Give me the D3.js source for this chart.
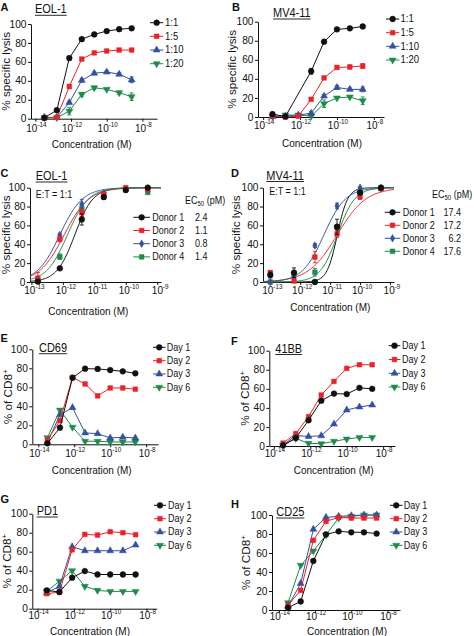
<!DOCTYPE html>
<html>
<head>
<meta charset="utf-8">
<script src="https://cdn.jsdelivr.net/npm/d3@7"></script>
<style>
  body { margin: 0; background: #fff; }
  text { font-family: "Liberation Sans", Arial, sans-serif; }
</style>
</head>
<body>
<svg id="fig" width="474" height="636"></svg>
<script>
// concentrations (M)
var concTitration = [3.2e-14, 1.6e-13, 8e-13, 4e-12, 2e-11, 1e-10, 5e-10, 2.5e-9];
var concEOLDonor = [1.6e-13, 8e-13, 4e-12, 2e-11, 1e-10, 5e-10];
var concMVDonor = [1e-13, 6.2e-13, 3.1e-12, 1.7e-11, 1e-10, 5e-10];

var yTicks = [0, 20, 40, 60, 80, 100];
var xTickExpWide = [-14, -12, -10, -8];
var xTickExpNarrow = [-13, -12, -11, -10, -9];

// A / B : effector:target ratios
var ratioNames = ['1:1', '1:5', '1:10', '1:20'];
var eolRatioLysis = [
  [1, 9, 64, 84, 89, 92.5, 94.5, 95.5],
  [0.5, 1.5, 34, 63, 69.5, 71.5, 72.5, 72.5],
  [1.4, 1.4, 17, 40.5, 48, 49.3, 47, 41],
  [1, 1, 8, 25.7, 32.7, 31, 27.5, 23.2]
];
var eolRatioErr = [
  [0.5, 1, 2, 1.5, 1, 1, 1, 1],
  [0.5, 0.5, 2, 1.5, 1, 1, 1, 1],
  [0.5, 0.5, 1.5, 2, 1.5, 1.5, 1.5, 3],
  [0.5, 0.5, 4, 2, 1.5, 1, 1.5, 4]
];
var mvRatioLysis = [
  [3, 0.5, null, 48, 79, 92, 93, 95],
  [1, 0, 1, 18.5, 41, 52, 52.5, 53.5],
  [0.5, 1, 2, 4, 22, 31, 29, 29],
  [0.5, 2, 2, 1, 14, 20, 21, 17]
];
var mvRatioErr = [
  [2, 0.5, 0, 3, 2, 1, 1, 1.5],
  [1, 0.5, 0.5, 1, 1, 1.5, 2, 2.5],
  [0.5, 0.5, 1, 2, 1.5, 2, 1.5, 2.5],
  [0.5, 0.5, 0.5, 1, 4, 1, 1, 4]
];

// C / D : donors, E:T = 1:1
var donorNames = ['Donor 1', 'Donor 2', 'Donor 3', 'Donor 4'];
var eolDonorLysis = [
  [0.5, 14.5, 66.4, 90, 97.5, 100],
  [4, 45.6, 73.5, 93, 100, 98],
  [3, 49.8, 82.7, 94, 98.5, 99],
  [1.5, 26.8, 78, 93, 98, 95]
];
var eolDonorErr = [
  [1, 1.5, 6, 2, 2, 1],
  [6, 3, 4, 1.5, 1.5, 1],
  [3, 2, 5, 1, 1, 1],
  [1.5, 3, 3, 1, 1, 1.5]
];
var eolEC50 = [2.4, 1.1, 0.8, 1.4];      // pM
var eolHill = [1.5, 1.1, 1.2, 1.3];
var mvDonorLysis = [
  [7.4, 10, 0, 58.6, 94.7, 100],
  [10, 1, 26.4, 51, 90.5, 99],
  [0, 4, 38.6, 80.6, 100, 99.5],
  [0, 8, 10.4, 58, 96, 99.5]
];
var mvDonorErr = [
  [3, 5, 1, 8, 2, 1],
  [2, 1, 6, 4, 3, 1],
  [1, 2, 2, 3, 1, 1],
  [1, 2, 4, 3, 1, 1]
];
var mvEC50 = [17.4, 17.2, 6.2, 17.6];    // pM
var mvHill = [2.5, 0.9, 1.2, 1.5];

// E-H : % of CD8+ T cells
var dayNames = ['Day 1', 'Day 2', 'Day 3', 'Day 6'];
var cd69 = [
  [1, 17.5, 70, 79.6, 79.3, 78.2, 76.8, 74.7],
  [4.5, 25, 70.5, 63.5, 51, 59.3, 59.3, 58],
  [2, 31, 38.6, 12, 11.2, 6.7, 7.4, 6.7],
  [7, 36, 18, 3.2, 3.2, 2.5, 2.5, 2.5]
];
var cd137 = [
  [0.7, 8.4, 27, 47.5, 55, 54.5, 61, 60],
  [3, 13, 30.8, 53.5, 67.8, 81.5, 85.3, 85.3],
  [1, 11, 10, 10.8, 23, 37.8, 41, 43],
  [0.5, 8, 2.8, 2.4, 4.9, 7.3, 9, 9]
];
var pd1 = [
  [19.3, 17.5, 32.6, 39.6, 36, 36, 36, 36],
  [15.8, 17.5, 62, 78.2, 77.5, 81, 80, 77.9],
  [16.8, 23.5, 65.3, 61, 61, 61, 61, 67],
  [18.2, 29, 40, 23.5, 19.3, 18.2, 18.2, 18.2]
];
var cd25 = [
  [2.5, 9, 51.6, 79.6, 82.8, 81.8, 81.8, 80.4],
  [5, 20.7, 73.3, 93.3, 97.5, 96.8, 96.8, 96.8],
  [4, 28, 85, 97.5, 98.6, 99.3, 100, 100],
  [7.7, 47, 62, 79, 96.8, 98.6, 100, 100]
];

var colors = ['#111111', '#e8232a', '#34519f', '#1d8c4a'];
var triShapes = ['circle', 'square', 'up', 'down'];
var donorShapes = ['circle', 'square', 'diamond', 'square'];

var SY = 1.12;
var svg = d3.select('#fig');

function txt(g, x, y, s, o) {
  o = o || {};
  var sy = o.flat ? 1 : SY;
  var t = g.append('text')
    .attr('transform', 'translate(' + x + ',' + y + ') scale(1,' + sy + ')' + (o.rot ? ' rotate(-90)' : ''))
    .attr('font-size', o.size || 10)
    .attr('text-anchor', o.anchor || 'start')
    .attr('fill', '#111');
  if (o.bold) t.attr('font-weight', 'bold');
  if (s !== null) t.text(s);
  return t;
}

function marker(g, shape, cx, cy, color) {
  var type = { circle: d3.symbolCircle, square: d3.symbolSquare, up: d3.symbolTriangle,
    down: d3.symbolTriangle, diamond: d3.symbolDiamond }[shape];
  var size = { circle: 26, square: 22, up: 21, down: 21, diamond: 17 }[shape];
  g.append('path')
    .attr('d', d3.symbol().type(type).size(size)())
    .attr('transform', 'translate(' + cx + ',' + cy + ')' + (shape === 'down' ? ' rotate(180)' : ''))
    .attr('fill', color)
    .attr('stroke', color)
    .attr('stroke-width', 0.5);
}

function panel(p) {
  var g = svg.append('g');
  var x = d3.scaleLog()
    .domain([Math.pow(10, p.xd[0]), Math.pow(10, p.xd[1])])
    .range([p.left, p.right]);
  var y = d3.scaleLinear().domain([0, 100]).range([p.bottom, p.top]);

  var ay = g.append('g').attr('transform', 'translate(' + p.left + ',0)')
    .call(d3.axisLeft(y).tickValues(yTicks).tickSize(3).tickSizeOuter(0).tickFormat(''));
  var ax = g.append('g').attr('transform', 'translate(0,' + p.bottom + ')')
    .call(d3.axisBottom(x).tickValues(p.xticks.map(function(e) { return Math.pow(10, e); }))
      .tickSize(3).tickSizeOuter(0).tickFormat(''));
  ay.selectAll('path,line').attr('stroke', '#111').attr('stroke-width', 1);
  ax.selectAll('path,line').attr('stroke', '#111').attr('stroke-width', 1);

  yTicks.forEach(function(v) {
    txt(g, p.left - 4.5, y(v) + 3.6, v, { anchor: 'end', size: 10.2 });
  });
  p.xticks.forEach(function(e) {
    var t = txt(g, x(Math.pow(10, e)) + (p.tickDx || 1), p.bottom + p.tickDy, null,
      { anchor: 'middle', size: 10 });
    t.append('tspan').text('10');
    t.append('tspan').attr('dy', -4.3).attr('font-size', 6.3).text('-' + (-e));
  });

  // axis titles
  txt(g, p.xlab[0], p.xlab[1], 'Concentration (M)', { anchor: 'middle', size: 10 });
  var yl = txt(g, p.ylab[0], (p.top + p.bottom) / 2, null, { anchor: 'middle', size: 10.5, rot: true });
  if (p.cd8) {
    yl.append('tspan').text('% of CD8');
    yl.append('tspan').attr('dy', -4).attr('font-size', 7).text('+');
  } else {
    yl.text('% specific lysis');
  }

  // title, underlined
  var tt = txt(g, p.title[0], p.title[1], p.title[2], { size: 11 });
  var tw = tt.node().getComputedTextLength();
  g.append('line')
    .attr('x1', p.title[0]).attr('x2', p.title[0] + tw)
    .attr('y1', p.title[1] + 2).attr('y2', p.title[1] + 2)
    .attr('stroke', '#111').attr('stroke-width', 0.9);
  txt(g, p.letter[0], p.letter[1], p.letter[2], { size: 11, bold: true, flat: true });

  if (p.note) txt(g, p.note[0], p.note[1], 'E:T = 1:1', { size: 9 });

  // fitted curves
  if (p.ec50) {
    var xs = d3.range(0, 161).map(function(i) {
      return Math.pow(10, p.xd[0] + i * (p.xd[1] - p.xd[0]) / 160);
    });
    p.ec50.forEach(function(ec, s) {
      var line = d3.line()
        .x(function(c) { return x(c); })
        .y(function(c) { return y(100 / (1 + Math.pow(ec * 1e-12 / c, p.hill[s]))); });
      g.append('path').datum(xs).attr('d', line)
        .attr('fill', 'none').attr('stroke', colors[s]).attr('stroke-width', 1);
    });
  }

  // series, first one drawn on top
  d3.range(p.values.length - 1, -1, -1).forEach(function(s) {
    var pts = p.values[s].map(function(v, i) {
      return { c: p.conc[i], v: v, e: p.err ? p.err[s][i] : 0 };
    }).filter(function(d) { return d.v !== null; });
    if (!p.ec50) {
      g.append('path').datum(pts)
        .attr('d', d3.line().x(function(d) { return x(d.c); }).y(function(d) { return y(d.v); }))
        .attr('fill', 'none').attr('stroke', colors[s]).attr('stroke-width', 1);
    }
    pts.forEach(function(d) {
      if (d.e > 1.2) {
        var cx = x(d.c);
        g.append('path')
          .attr('d', 'M' + cx + ',' + y(Math.max(0, d.v - d.e)) + 'V' + y(d.v + d.e) +
            'M' + (cx - 2) + ',' + y(d.v + d.e) + 'H' + (cx + 2) +
            'M' + (cx - 2) + ',' + y(Math.max(0, d.v - d.e)) + 'H' + (cx + 2))
          .attr('stroke', colors[s]).attr('stroke-width', 0.9).attr('fill', 'none');
      }
      marker(g, p.shapes[s], x(d.c), y(d.v), colors[s]);
    });
  });

  // legend
  var L = p.legend;
  p.names.forEach(function(n, s) {
    var ly = L.rows[s];
    g.append('line').attr('x1', L.x0).attr('x2', L.x1).attr('y1', ly).attr('y2', ly)
      .attr('stroke', colors[s]).attr('stroke-width', 1);
    marker(g, p.shapes[s], (L.x0 + L.x1) / 2, ly, colors[s]);
    txt(g, L.tx, ly + 3.3, n, { size: L.size });
    if (p.ec50) txt(g, L.vx, ly + 3.3, p.ec50[s].toFixed(1), { size: L.size, anchor: 'end' });
  });
  if (p.ec50) {
    var h = txt(g, L.hx, L.hy, null, { size: 9 });
    h.append('tspan').text('EC');
    h.append('tspan').attr('dy', 2).attr('font-size', 6).text('50');
    h.append('tspan').attr('dy', -2).text(' (pM)');
  }
}

panel({
  left: 31, right: 157, top: 24, bottom: 118.7, xd: [-14.245, -7.18], xticks: xTickExpWide, tickDy: 13.3,
  xlab: [91.7, 147.5], ylab: [10], title: [35, 13.3, 'EOL-1'], letter: [0.5, 10.5, 'A'],
  conc: concTitration, values: eolRatioLysis, err: eolRatioErr, names: ratioNames, shapes: triShapes,
  legend: { x0: 150, x1: 163.3, tx: 165, size: 9.5, rows: [22.7, 36.3, 50, 63.7] }
});
panel({
  left: 258, right: 384, top: 21.7, bottom: 117, xd: [-14.28, -7.45], xticks: xTickExpWide, tickDy: 12,
  xlab: [322, 147], ylab: [236], title: [273, 17, 'MV4-11'], letter: [232, 10.5, 'B'],
  conc: concTitration, values: mvRatioLysis, err: mvRatioErr, names: ratioNames, shapes: triShapes,
  legend: { x0: 386, x1: 399.3, tx: 400.5, size: 9.5, rows: [19, 32.7, 46.3, 60] }
});
panel({
  left: 30, right: 161, top: 187.7, bottom: 282, xd: [-13.045, -8.88], xticks: xTickExpNarrow,
  tickDy: 11.8, tickDx: 3,
  xlab: [88.3, 315], ylab: [10], title: [35.7, 180, 'EOL-1'], letter: [0.5, 176.7, 'C'],
  note: [35.7, 197.5], conc: concEOLDonor, values: eolDonorLysis, err: eolDonorErr,
  names: donorNames, shapes: donorShapes, ec50: eolEC50, hill: eolHill,
  legend: { x0: 133.3, x1: 150, tx: 152.3, vx: 207.5, hx: 185, hy: 203.5, size: 9,
    rows: [217.3, 230.5, 243.7, 256.9] }
});
panel({
  left: 263, right: 394, top: 187.7, bottom: 282, xd: [-13.244, -8.865], xticks: xTickExpNarrow,
  tickDy: 12.2, tickDx: 2,
  xlab: [330.3, 311], ylab: [239.5], title: [266.3, 179.5, 'MV4-11'], letter: [231, 176.7, 'D'],
  note: [269.3, 195], conc: concMVDonor, values: mvDonorLysis, err: mvDonorErr,
  names: donorNames, shapes: donorShapes, ec50: mvEC50, hill: mvHill,
  legend: { x0: 384.7, x1: 400.3, tx: 402.7, vx: 461, hx: 432, hy: 198, size: 9,
    rows: [212.3, 225.3, 238.3, 251.3] }
});
panel({
  left: 32.3, right: 158, top: 349.3, bottom: 444.3, xd: [-14.335, -7.34], xticks: xTickExpWide, tickDy: 12.2,
  xlab: [91.7, 473.5], ylab: [11.5], title: [39, 351.7, 'CD69'], letter: [0.5, 341.7, 'E'], cd8: true,
  conc: concTitration, values: cd69, names: dayNames, shapes: triShapes,
  legend: { x0: 153, x1: 165.5, tx: 166.7, size: 9, rows: [347.3, 360.7, 374, 387.3] }
});
panel({
  left: 269.3, right: 395, top: 350.7, bottom: 446, xd: [-14.25, -7.35], xticks: xTickExpWide, tickDy: 11.2,
  xlab: [333.7, 474], ylab: [248.5], title: [275.3, 352.5, '41BB'], letter: [231, 345, 'F'], cd8: true,
  conc: concTitration, values: cd137, names: dayNames, shapes: triShapes,
  legend: { x0: 388.7, x1: 400.3, tx: 402, size: 9, rows: [345.7, 359.5, 373.3, 387] }
});
panel({
  left: 32.3, right: 156.7, top: 513.7, bottom: 608.7, xd: [-14.29, -7.44], xticks: xTickExpWide, tickDy: 10,
  xlab: [90, 634.5], ylab: [11], title: [36.7, 515, 'PD1'], letter: [0.5, 503, 'G'], cd8: true,
  conc: concTitration, values: pd1, names: dayNames, shapes: triShapes,
  legend: { x0: 154, x1: 166, tx: 168, size: 9, rows: [505.3, 518.7, 532, 545.3] }
});
panel({
  left: 272, right: 400, top: 515, bottom: 610, xd: [-14.38, -7.31], xticks: xTickExpWide, tickDy: 10,
  xlab: [347, 634.5], ylab: [249.5], title: [276.3, 516, 'CD25'], letter: [231, 507.5, 'H'], cd8: true,
  conc: concTitration, values: cd25, names: dayNames, shapes: triShapes,
  legend: { x0: 390, x1: 402.5, tx: 403.7, size: 9, rows: [505.3, 518.7, 532, 545.3] }
});
</script>
</body>
</html>
